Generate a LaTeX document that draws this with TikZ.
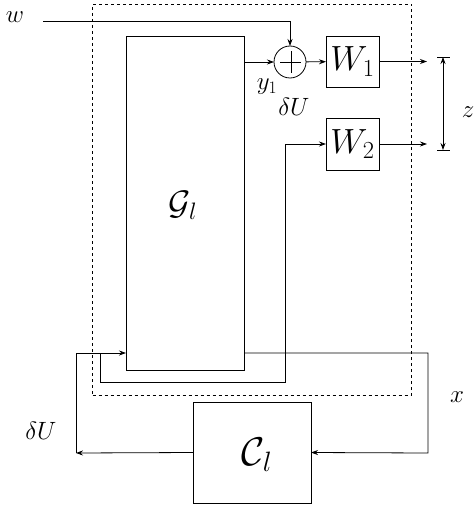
\RequirePackage{fix-cm}
\documentclass[tikz,border=0pt]{standalone}
\usetikzlibrary{positioning,arrows.meta}
\begin{document}
\begin{tikzpicture}[
    x=1pt, y=-1pt,
    >={Stealth[length=7pt,width=5pt]},
    blockbox/.style={rectangle, draw, line width=0.8pt, inner sep=0pt, outer sep=0pt},
    sumnode/.style={circle, draw, line width=0.8pt, minimum size=32pt, inner sep=0pt, outer sep=0pt},
    arrow/.style={->, line width=0.8pt},
    wire/.style={line width=0.8pt},
    wlabel/.style={font=\fontsize{35}{35}\selectfont},
    biglabel/.style={font=\fontsize{34}{34}\selectfont},
    siglabel/.style={font=\fontsize{25}{25}\selectfont, inner sep=0pt}
]
    \useasboundingbox (0,0) rectangle (474,508);

    \node[draw, dashed, line width=0.8pt, minimum width=319pt, minimum height=391pt, inner sep=0pt] (frame) at (252,199.5) {};
    \node[blockbox, minimum width=118pt, minimum height=334pt] (plant) at (185,203) {};
    \node[biglabel] (plantlab) at (183,205) {$\mathcal{G}_l$};
    \node[sumnode] (sum) at (290,62) {};
    \node[blockbox, wlabel, minimum width=53pt, minimum height=51pt] (wone) at (352.5,61.5) {$W_1$};
    \node[blockbox, wlabel, minimum width=53pt, minimum height=52pt] (wtwo) at (352.5,144) {$W_2$};
    \node[blockbox, minimum width=118pt, minimum height=101pt] (cont) at (252,452.5) {};
    \node[font=\fontsize{40}{40}\selectfont] (contlab) at (257,455) {$\mathcal{C}_l$};

    \coordinate (win) at (43,21);
    \coordinate (zone) at (427,61.5);
    \coordinate (ztwo) at (427,144);
    \coordinate (loopa) at (100.5,353);
    \coordinate (loopb) at (285,382);
    \coordinate (ufb) at (76,453);
    \coordinate (xout) at (428,453);
    \coordinate (ztop) at (443,57);
    \coordinate (zbot) at (443,150);

    \draw[arrow] (win) -| (sum.north);
    \draw[arrow] (plant.east |- sum.west) -- (sum.west);
    \draw[wire] ([xshift=-10pt]sum.center) -- ([xshift=11pt]sum.center);
    \draw[wire] ([xshift=1pt,yshift=-11pt]sum.center) -- ([xshift=1pt,yshift=11pt]sum.center);
    \draw[arrow] (sum) -- (wone);
    \draw[arrow] (wone) -- (zone);
    \draw[arrow] (wtwo) -- (ztwo);
    \draw[arrow] (loopa) |- (loopb) |- (wtwo.west);
    \draw[arrow] (cont.west) -- (ufb);
    \draw[arrow] (ufb) |- (plant.west |- loopa);
    \draw[arrow] (plant.east |- loopa) -| (xout) -- (cont.east);
    \draw[<->, line width=0.8pt] (ztop) -- (zbot);
    \draw[wire] ([xshift=-6pt]ztop) -- ([xshift=7pt]ztop);
    \draw[wire] ([xshift=-6pt]zbot) -- ([xshift=7pt]zbot);

    \node[siglabel] (wlab) at (15,17) {$w$};
    \node[siglabel] (ylab) at (267,87) {$y_1$};
    \node[siglabel] (dulab) at (294,107) {$\delta U$};
    \node[siglabel] (zlab) at (468,112) {$z$};
    \node[siglabel] (xlab) at (457,397) {$x$};
    \node[siglabel] (dulabb) at (41,431) {$\delta U$};
\end{tikzpicture}
\end{document}
